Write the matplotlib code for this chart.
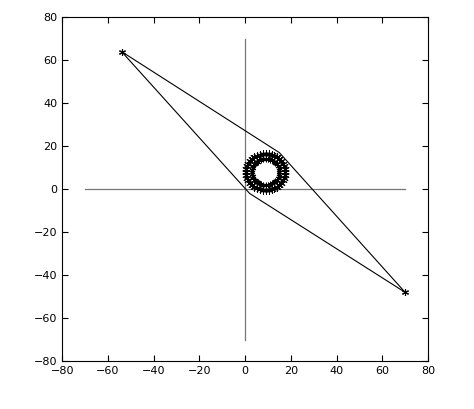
import numpy as np
import matplotlib
matplotlib.use("Agg")
import matplotlib.pyplot as plt

far_x = [-54, 70]
far_y = [64, -48]
upper_path_x = [-54, 15, 70]
upper_path_y = [64, 17, -48]
lower_path_x = [-54, 2, 70]
lower_path_y = [64, -2, -48]
circle_cx, circle_cy = 9, 8
circle_r_outer, circle_r_inner = 8.5, 6
n_pts = 40

fig = plt.figure(figsize=(4.74, 4.09), dpi=100)
ax = fig.add_axes([0.131, 0.117, 0.772, 0.841])
ax.plot([-70, 70], [0, 0], color='#777777', lw=0.9)
ax.plot([0, 0], [-70, 70], color='#777777', lw=0.9)
ax.plot(upper_path_x, upper_path_y, color='black', lw=0.8)
ax.plot(lower_path_x, lower_path_y, color='black', lw=0.8)
t = np.linspace(0, 2*np.pi, n_pts, endpoint=False)
for r, ms in ((circle_r_outer, 6), (circle_r_inner, 4)):
    ax.plot(circle_cx + r*np.cos(t), circle_cy + r*np.sin(t), ls='none',
            marker=(6, 2, 0), ms=ms, color='black', mew=0.7)
ax.plot(far_x, far_y, ls='none', marker=(6, 2, 0), ms=5, color='black', mew=0.8)
ax.set_xlim(-80, 80)
ax.set_ylim(-80, 80)
ax.set_xticks(range(-80, 81, 20))
ax.set_yticks(range(-80, 81, 20))
ax.tick_params(direction='in', labelsize=8, length=4, top=True, right=True)
ax.set_xticklabels([str(v).replace('-', '\u2212') for v in range(-80, 81, 20)])
ax.set_yticklabels([str(v).replace('-', '\u2212') for v in range(-80, 81, 20)])
fig.savefig("out.png")
